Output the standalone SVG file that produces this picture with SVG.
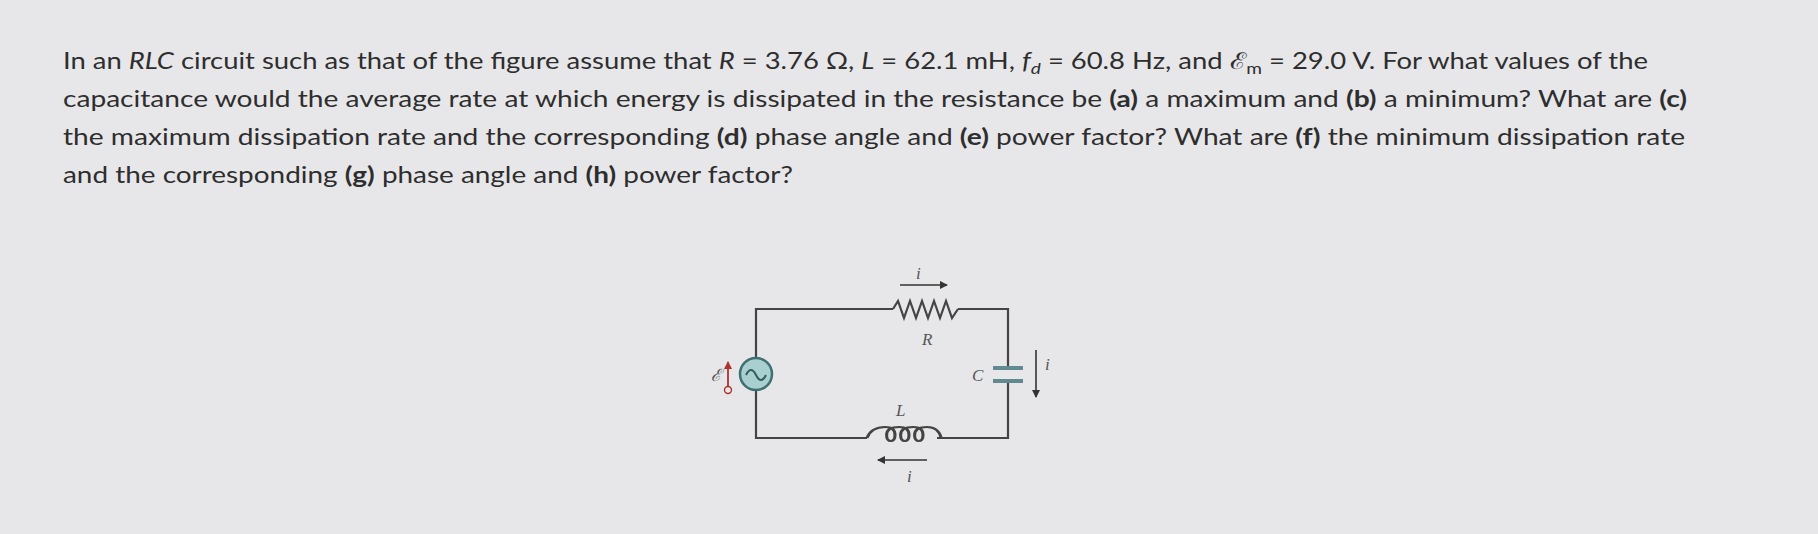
<svg xmlns="http://www.w3.org/2000/svg" width="1818" height="534" viewBox="0 0 1818 534">
<style>
.t{font-family:Lato,"Open Sans",sans-serif;font-size:23px;fill:#2e2e2e}
.w{fill:none;stroke:#444;stroke-width:2.2}
.l{font-family:"Liberation Serif",serif;font-style:italic;font-size:17px;fill:#555}
.a{stroke:#333;stroke-width:1.6}
</style>
<defs>
<marker id="ah" markerWidth="8" markerHeight="8" refX="7" refY="4" orient="auto" markerUnits="userSpaceOnUse"><path d="M0,0 L8,4 L0,8 Z" fill="#333"/></marker>
<marker id="ar" markerWidth="8" markerHeight="8" refX="7" refY="4" orient="auto" markerUnits="userSpaceOnUse"><path d="M0,0 L8,4 L0,8 Z" fill="#b03030"/></marker>
</defs>
<rect width="1818" height="534" fill="#e7e7ea"/>
<g id="question">
<text class="t" x="63" y="69" textLength="1585" lengthAdjust="spacingAndGlyphs">In an <tspan font-style="italic">RLC</tspan> circuit such as that of the figure assume that <tspan font-style="italic">R</tspan> = 3.76 Ω, <tspan font-style="italic">L</tspan> = 62.1 mH, <tspan font-style="italic">f</tspan><tspan font-size="16" dy="5" font-style="italic">d</tspan><tspan dy="-5"> = 60.8 Hz, and ℰ</tspan><tspan font-size="16" dy="5">m</tspan><tspan dy="-5"> = 29.0 V. For what values of the</tspan></text>
<text class="t" x="63" y="107" textLength="1624" lengthAdjust="spacingAndGlyphs">capacitance would the average rate at which energy is dissipated in the resistance be <tspan font-weight="bold">(a)</tspan> a maximum and <tspan font-weight="bold">(b)</tspan> a minimum? What are <tspan font-weight="bold">(c)</tspan></text>
<text class="t" x="63" y="145" textLength="1622" lengthAdjust="spacingAndGlyphs">the maximum dissipation rate and the corresponding <tspan font-weight="bold">(d)</tspan> phase angle and <tspan font-weight="bold">(e)</tspan> power factor? What are <tspan font-weight="bold">(f)</tspan> the minimum dissipation rate</text>
<text class="t" x="63" y="183" textLength="730" lengthAdjust="spacingAndGlyphs">and the corresponding <tspan font-weight="bold">(g)</tspan> phase angle and <tspan font-weight="bold">(h)</tspan> power factor?</text>
</g>
<g id="connectors">
<path class="w" d="M893,309 H756 V358 M756,390 V438 H867 M937,438 H1008 V381 M1008,368 V309 H958"/>
</g>
<g id="source">
<circle cx="756" cy="374" r="16" fill="#a9cfd0" stroke="#3f6f70" stroke-width="2.5"/>
<path d="M746,375 q5,-10 10,0 t10,0" fill="none" stroke="#2f5f60" stroke-width="2"/>
<line x1="728" y1="386" x2="728" y2="362" stroke="#b03030" stroke-width="1.8" marker-end="url(#ar)"/>
<circle cx="728" cy="390" r="3.5" fill="none" stroke="#b03030" stroke-width="1.4"/>
<text class="l" x="711" y="381" font-style="normal" font-size="19">ℰ</text>
</g>
<g id="resistor">
<path class="w" d="M893,309 L898,301 L904,318 L910,301 L916,318 L922,301 L928,318 L934,301 L940,318 L946,301 L952,318 L958,309"/>
<line class="a" x1="900" y1="285" x2="947" y2="285" marker-end="url(#ah)"/>
<text class="l" x="916" y="279">i</text>
<text class="l" x="922" y="345">R</text>
</g>
<g id="capacitor">
<rect x="993" y="366" width="30" height="4" fill="#5f8a92"/>
<rect x="993" y="379" width="30" height="4" fill="#5f8a92"/>
<text class="l" x="972" y="381">C</text>
<line class="a" x1="1036" y1="350" x2="1036" y2="397" marker-end="url(#ah)"/>
<text class="l" x="1045" y="370">i</text>
</g>
<g id="inductor">
<path class="w" transform="translate(867,0) scale(1.4,1)" d="M0,438 q3,-11 13,-11 q7,0 7,8 q0,6 -3,6 q-3,0 -3,-6 q0,-8 9,-8 q7,0 7,8 q0,6 -3,6 q-3,0 -3,-6 q0,-8 9,-8 q7,0 7,8 q0,6 -3,6 q-3,0 -3,-6 q0,-8 9,-8 q8,0 10,11"/>
<text class="l" x="896" y="416">L</text>
<line class="a" x1="927" y1="460" x2="878" y2="460" marker-end="url(#ah)"/>
<text class="l" x="907" y="482">i</text>
</g>
</svg>
